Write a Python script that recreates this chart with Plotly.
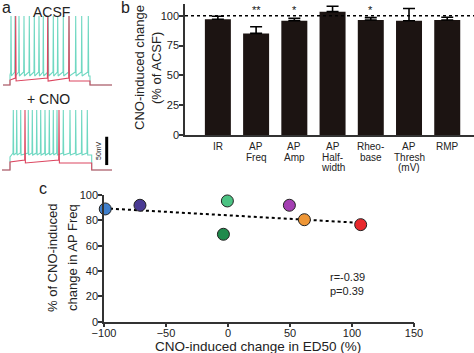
import plotly.graph_objects as go

W, H = 474, 353
FONT = "Liberation Sans, Arial, sans-serif"

# ---------------- Panel a data (traces) ----------------
acsf_cyan_spikes = [110, 150, 190, 240, 293, 343, 390, 433, 483, 533, 577, 633, 690, 757, 817, 883]  # ms
acsf_red_spikes = [157, 477, 690]
cno_cyan_spikes = [133, 167, 207, 283, 323, 367, 407, 450, 493, 533, 570, 633, 700, 757, 817, 873]
cno_red_spikes = [250, 590]
# levels (mV): baseline, step, pre-spike, post-spike, peak
acsf_cyan_lv = [-70, -52.3, -47.0, -54.1, 51.9]
acsf_red_lv = [-70, -61.2, -57.6, -62.9, 51.9]
cno_cyan_lv = [-70, -47.0, -40.0, -43.5, 36.0]
cno_red_lv = [-70, -55.9, -52.3, -57.6, 36.0]
acsf_times = [30, 100, 900, 1120]   # start, step on, step off, end (ms)
cno_times = [20, 100, 917, 1120]
cno_offset = -150.2
scale_bar_mV = 50
scale_bar_x = 1067
scale_bar_bottom = -61.2

# ---------------- Panel b data ----------------
b_categories = ["IR", "AP<br>Freq", "AP<br>Amp", "AP<br>Half-<br>width", "Rheo-<br>base", "AP<br>Thresh<br>(mV)", "RMP"]
b_values = [97.0, 85.2, 95.8, 103.4, 96.4, 95.8, 96.4]
b_errors = [2.5, 5.6, 2.0, 4.6, 2.0, 10.2, 2.3]
b_sig = ["", "**", "*", "", "*", "", ""]
b_ref = 100

# ---------------- Panel c data ----------------
c_x = [-99, -71, -0.5, -3.7, 49.5, 61.6, 107]
c_y = [89.0, 91.9, 95.3, 69.0, 91.9, 80.5, 76.6]
c_colors = ["#3f7fcc", "#4a3a94", "#4cc383", "#1f8a4c", "#a43fb3", "#ee9636", "#e8282c"]
fit_x = [-100, 107]
fit_y = [89.5, 78.0]
stats_text = "r=-0.39<br>p=0.39"


def build(spikes, lv, times, offset=0.0):
    base, step, pre, post, peak = lv
    t0, ton, toff, tend = times
    xs = [t0, ton, ton]
    ys = [base, base, step]
    for s in spikes:
        xs += [s - 3, s, s + 4]
        ys += [pre, peak, post]
    xs += [toff, toff, tend]
    ys += [post, base, base]
    return xs, [y + offset for y in ys]


fig = go.Figure()
CYAN = "#6fd8c2"
RED = "#dc4660"

for spikes, lv, times, off, col in [
    (acsf_cyan_spikes, acsf_cyan_lv, acsf_times, 0, CYAN),
    (acsf_red_spikes, acsf_red_lv, acsf_times, 0, RED),
    (cno_cyan_spikes, cno_cyan_lv, cno_times, cno_offset, CYAN),
    (cno_red_spikes, cno_red_lv, cno_times, cno_offset, RED),
]:
    xs, ys = build(spikes, lv, times, off)
    fig.add_trace(go.Scatter(x=xs, y=ys, mode="lines", line=dict(color=col, width=1.1),
                             xaxis="x3", yaxis="y3", showlegend=False, hoverinfo="skip"))

fig.add_trace(go.Scatter(x=[scale_bar_x, scale_bar_x],
                         y=[scale_bar_bottom + cno_offset, scale_bar_bottom + scale_bar_mV + cno_offset],
                         mode="lines", line=dict(color="black", width=3),
                         xaxis="x3", yaxis="y3", showlegend=False, hoverinfo="skip"))

# ---------------- Panel b ----------------
b_idx = list(range(len(b_categories)))
fig.add_trace(go.Bar(x=b_idx, y=b_values, width=0.68, marker=dict(color="#1c1412", line=dict(width=0)),
                     error_y=dict(type="data", symmetric=False, array=b_errors,
                                  arrayminus=[0] * len(b_errors), color="black", thickness=1.6, width=6),
                     xaxis="x", yaxis="y", showlegend=False))

# ---------------- Panel c ----------------
fig.add_trace(go.Scatter(x=fit_x, y=fit_y, mode="lines", line=dict(color="black", width=2, dash="dot"),
                         xaxis="x2", yaxis="y2", showlegend=False))
fig.add_trace(go.Scatter(x=c_x, y=c_y, mode="markers", cliponaxis=False,
                         marker=dict(size=12, color=c_colors, line=dict(color="#222", width=1)),
                         xaxis="x2", yaxis="y2", showlegend=False))


def py(p):  # pixel from top -> paper y
    return 1 - p / H


def px(p):
    return p / W


axis_common = dict(showgrid=False, zeroline=False, showline=True, linecolor="#333", linewidth=1.5,
                   tickfont=dict(family=FONT, size=11, color="#222"), ticks="outside",
                   tickcolor="#333", ticklen=4, tickwidth=1.5, automargin=False)

fig.update_layout(
    template="none",
    width=W, height=H, margin=dict(l=0, r=0, t=0, b=0, autoexpand=False),
    paper_bgcolor="white", plot_bgcolor="rgba(0,0,0,0)",
    font=dict(family=FONT, color="#222"),
    xaxis=dict(domain=[px(185), 1.0], range=[-0.86, 6.7], showgrid=False, zeroline=False,
               showline=True, linecolor="#333", linewidth=1.5, showticklabels=False, ticks="",
               anchor="y", automargin=False),
    yaxis=dict(domain=[py(135), py(3.8)], range=[0, 110], tickvals=[0, 25, 50, 75, 100],
               anchor="x", ticklabelstandoff=-2, **axis_common),
    xaxis2=dict(domain=[px(104), px(414)], range=[-100, 150], tickvals=[-100, -50, 0, 50, 100, 150],
                anchor="y2", ticklabelstandoff=-4, **axis_common),
    yaxis2=dict(domain=[py(321.7), py(195)], range=[0, 100], tickvals=[0, 20, 40, 60, 80, 100],
                anchor="x2", ticklabelstandoff=-2, **axis_common),
    xaxis3=dict(domain=[0, px(120)], range=[0, 1200], visible=False, anchor="y3", automargin=False),
    yaxis3=dict(domain=[py(180), 1.0], range=[-237.8, 80.2], visible=False, anchor="x3", automargin=False),
)

fig.add_shape(type="line", xref="x domain", yref="y", x0=0, x1=1, y0=b_ref, y1=b_ref,
              line=dict(color="black", width=1.6, dash="dot"))

ann = []


def add(x, y, text, size, xref="paper", yref="paper", angle=0, color="#222", **kw):
    d = dict(x=x, y=y, xref=xref, yref=yref, text=text, textangle=angle, showarrow=False,
             xanchor="center", yanchor="middle", font=dict(family=FONT, size=size, color=color))
    d.update(kw)
    ann.append(d)


# Panel b x labels, line by line
for i, lab in enumerate(b_categories):
    for j, line in enumerate(lab.split("<br>")):
        add(i, py(146.5 + j * 10.5), line, 10, xref="x")
# significance stars
for i, s in enumerate(b_sig):
    if s:
        add(i, py(10), s, 11, xref="x", color="#111111")
# Panel b y title
add(px(140), py(68), "CNO-induced change", 13, angle=-90)
add(px(157), py(68), "(% of ACSF)", 13, angle=-90)
# Panel c titles
add(px(52), py(258), "% of CNO-induced", 13, angle=-90)
add(px(72), py(258), "change in AP Freq", 13, angle=-90)
add(px(258), py(346), "CNO-induced change in ED50 (%)", 13.5)
add(80.6, 30, stats_text, 11, xref="x2", yref="y2", align="left", xanchor="left")
# Panel a texts
add(px(51), py(12), "ACSF", 14)
add(px(48.5), py(99), "+ CNO", 14)
add(px(98), py(151), "50mV", 7, angle=-90)
# panel letters
for t, x, y in [("a", 6, 7), ("b", 126, 7), ("c", 43, 188)]:
    add(px(x), py(y), t, 16)

fig.update_layout(annotations=ann)
fig.write_html("out.html")
